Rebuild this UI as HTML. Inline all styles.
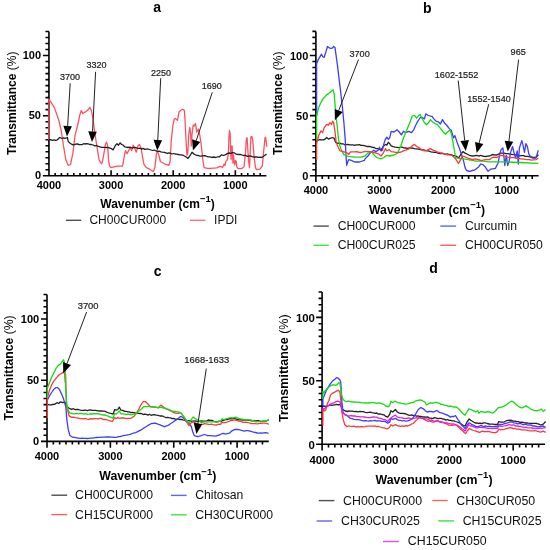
<!DOCTYPE html>
<html><head><meta charset="utf-8"><style>
html,body{margin:0;padding:0;background:#fff;width:550px;height:550px;overflow:hidden}
svg{display:block;will-change:transform}
text{font-family:"Liberation Sans",sans-serif}
.tk{font-size:11px;font-weight:bold;fill:#000}
.ti{font-size:14px;font-weight:bold;fill:#000}
.ax{font-size:12px;font-weight:bold;fill:#000}
.an{font-size:9px;fill:#1a1a1a;stroke:#1a1a1a;stroke-width:0.2px}
.lg{font-size:12px;fill:#111}
</style></head><body>
<svg width="550" height="550" viewBox="0 0 550 550">
<rect width="550" height="550" fill="#fff"/>
<g><path d="M48.95 31.5V175.8M42.95 175.8H48.95M45.45 169.79H48.95M45.45 163.78H48.95M45.45 157.76H48.95M45.45 151.75H48.95M45.45 145.74H48.95M45.45 139.73H48.95M45.45 133.71H48.95M45.45 127.7H48.95M45.45 121.69H48.95M42.95 115.68H48.95M45.45 109.66H48.95M45.45 103.65H48.95M45.45 97.64H48.95M45.45 91.62H48.95M45.45 85.61H48.95M45.45 79.6H48.95M45.45 73.59H48.95M45.45 67.58H48.95M45.45 61.56H48.95M42.95 55.55H48.95M45.45 49.54H48.95M45.45 43.53H48.95M45.45 37.51H48.95M45.45 31.5H48.95M48.95 175.8H266.4M48.95 175.8V170.2M55.16 175.8V172.9M61.38 175.8V172.9M67.59 175.8V172.9M73.8 175.8V172.9M80.01 175.8V172.9M86.23 175.8V172.9M92.44 175.8V172.9M98.65 175.8V172.9M104.87 175.8V172.9M111.08 175.8V170.2M117.29 175.8V172.9M123.5 175.8V172.9M129.72 175.8V172.9M135.93 175.8V172.9M142.14 175.8V172.9M148.36 175.8V172.9M154.57 175.8V172.9M160.78 175.8V172.9M166.99 175.8V172.9M173.21 175.8V170.2M179.42 175.8V172.9M185.63 175.8V172.9M191.85 175.8V172.9M198.06 175.8V172.9M204.27 175.8V172.9M210.48 175.8V172.9M216.7 175.8V172.9M222.91 175.8V172.9M229.12 175.8V172.9M235.34 175.8V170.2M241.55 175.8V172.9M247.76 175.8V172.9M253.97 175.8V172.9M260.19 175.8V172.9" fill="none" stroke="#000" stroke-width="1.6"/>
<polyline points="48.9,140 48.9,99 54.3,107.4 58.9,120.5 61.2,130.5 63.5,146 65.9,160 68.2,165.3 70.5,164.5 72.8,153.7 75.1,135.2 77.5,126 79.8,115 81.3,110.5 82.9,113.5 85.2,112 87.5,110.5 89.8,107.4 91.4,110.5 92.9,118.2 94.5,130.5 96.8,146 99.1,160 101.4,163.8 102.3,162.2 103.9,153.7 105.4,144.5 106.5,142.1 107.7,146 108.5,159.9 109.6,166.1 110.8,167.6 113.9,166.9 117,166.1 122.4,166.1 123.2,163 124.7,153.7 125.5,150.6 127,153.7 128.6,150.6 130.1,147.5 131.7,150.6 133.2,145.2 134.8,148.3 136.3,152.2 137.9,146 139.4,144.5 141,147.5 142.5,156.8 144,164.5 146.4,167.6 149.5,169.2 153.3,171.5 154.9,167.6 156.4,153.7 157.5,151.4 158.7,154.5 160.4,161.5 164.3,163.8 168.9,165.3 170.1,161.5 171.2,141.4 172.8,125.9 174.3,119 175.3,118.5 176.5,119.5 177.5,120.3 179,112 180.5,110.5 182.8,109.2 184.4,110.5 185.1,121.3 185.9,138.3 187,155.3 187.8,153.7 188.7,135.2 189.8,127.5 190.5,132.1 191.3,146 192.1,133.6 193.2,125.1 194.4,125.9 195.5,123.6 196.7,132.1 198.3,129 199.8,135.2 201.4,146 203,161.5 204.1,167.6 207.5,168.4 210,168.4 216.8,167.8 220,166.4 222.7,167.3 224.1,164.1 225,165.5 225.9,161.4 226.8,160.5 227.7,158.6 228.4,152.3 228.9,138.6 229.5,130.5 230.2,134.1 230.7,152.3 231.1,159.5 231.6,146.8 232.1,145.9 232.5,154.1 233,163.2 233.5,155 234.1,161.4 234.7,165 235.5,160.5 236.2,161.4 236.8,166.8 238.2,168.6 241.8,168.5 244.1,166.8 245.5,152.3 246.4,138.6 247.1,137.7 247.7,147.7 248.6,161.4 249.5,167.7 250.2,152.3 250.9,136.8 251.8,136.4 252.7,139.5 254.1,156.8 255.5,167.7 256.4,169.5 260,169.1 262.3,165.9 263.6,152.3 265,137.7 265.6,137.3 266.4,143.2 266.8,146.8" fill="none" stroke="#ff5060" stroke-width="1.3" stroke-linejoin="round"/>
<polyline points="48.9,139.8 50.6,139.7 52.3,140.3 54.0,139.9 55.7,140.3 57.4,139.8 59.7,137.5 62.0,138.5 63.5,137.9 65.1,138.3 67.4,137.5 68.2,141.4 70.1,143.3 72.0,144.5 73.8,144.9 75.5,144.1 77.2,144.0 79.0,144.5 80.5,144.6 82.0,144.7 83.5,143.7 85.0,144.0 86.6,143.7 88.2,143.9 89.8,144.5 91.4,144.5 93.1,145.0 94.8,145.9 96.6,145.5 98.3,146.3 100.0,146.8 101.5,147.3 103.1,147.3 104.7,147.4 106.2,147.5 107.7,147.3 109.3,147.8 110.8,148.3 113.1,149.9 115.5,145.2 117.0,143.7 118.5,145.2 120.1,142.9 121.6,144.5 123.2,145.2 124.7,146.8 126.2,147.1 127.8,147.5 129.3,147.2 130.9,147.5 132.4,148.1 134.0,147.4 135.5,147.5 137.1,148.2 138.6,148.3 140.2,148.1 141.7,149.1 143.3,148.4 144.8,149.4 146.4,149.1 147.9,149.0 149.5,149.5 151.0,150.0 152.5,150.5 154.1,150.0 155.6,150.6 157.4,151.3 159.1,151.2 160.9,151.9 162.7,152.2 164.3,152.4 165.8,152.9 167.4,153.4 168.9,152.8 170.5,153.4 172.0,154.0 173.6,153.5 175.1,154.0 176.7,154.1 178.2,154.5 179.8,154.9 181.3,154.9 182.8,155.2 184.4,156.0 186.2,157.0 187.9,158.4 189.8,156.0 192.1,152.2 194.4,154.5 196.7,155.3 198.3,155.5 199.8,156.1 201.4,156.0 202.9,155.8 204.5,155.7 206.0,156.0 208.0,156.8 210.0,156.8 211.8,157.5 213.7,157.0 215.5,157.5 217.5,156.9 219.5,156.8 221.6,154.8 223.6,155.5 225.6,154.6 227.7,153.4 229.3,153.0 230.9,153.4 232.5,152.7 234.1,152.8 235.7,153.8 237.3,154.4 239.0,154.5 240.7,154.5 242.4,155.1 244.1,155.5 245.8,155.5 247.5,156.3 249.2,155.9 250.9,156.2 252.7,156.8 254.6,157.0 256.4,156.8 258.2,157.4 260.0,157.2 261.8,157.5 264.6,155.5 266.6,154.1" fill="none" stroke="#222222" stroke-width="1.3" stroke-linejoin="round"/>
<text x="48.95" y="188.6" class="tk" style="font-size:11px" text-anchor="middle">4000</text>
<text x="111.08" y="188.6" class="tk" style="font-size:11px" text-anchor="middle">3000</text>
<text x="173.21" y="188.6" class="tk" style="font-size:11px" text-anchor="middle">2000</text>
<text x="235.34" y="188.6" class="tk" style="font-size:11px" text-anchor="middle">1000</text>
<text x="41" y="179.3" class="tk" style="font-size:11px" text-anchor="end">0</text>
<text x="41" y="119.18" class="tk" style="font-size:11px" text-anchor="end">50</text>
<text x="41" y="59.05" class="tk" style="font-size:11px" text-anchor="end">100</text>
<text x="157.2" y="11.8" class="ti" text-anchor="middle">a</text>
<text transform="translate(16.3 103.3) rotate(-90)" class="ax" style="font-size:12px" text-anchor="middle">Transmittance <tspan font-weight="normal">(%)</tspan></text>
<text x="157.5" y="207.5" class="ax" style="font-size:12px" text-anchor="middle">Wavenumber (cm<tspan dy="-5.4" font-size="9.5px">−1</tspan><tspan dy="5.4">)</tspan></text>
<text x="60" y="79.7" class="an" style="font-size:9px">3700</text>
<line x1="70.2" y1="83.3" x2="67.63" y2="126.02" stroke="#222" stroke-width="1"/>
<polygon points="67,136.5 63.34,125.76 71.92,126.28" fill="#000"/>
<text x="86.5" y="67.8" class="an" style="font-size:9px">3320</text>
<line x1="95.6" y1="71.8" x2="92.54" y2="131.51" stroke="#222" stroke-width="1"/>
<polygon points="92,142 88.24,131.29 96.83,131.73" fill="#000"/>
<text x="150.9" y="76" class="an" style="font-size:9px">2250</text>
<line x1="160.7" y1="78.2" x2="157.79" y2="140.01" stroke="#222" stroke-width="1"/>
<polygon points="157.3,150.5 153.5,139.81 162.09,140.21" fill="#000"/>
<text x="201.8" y="88.9" class="an" style="font-size:9px">1690</text>
<line x1="212.3" y1="92.3" x2="196.22" y2="140.64" stroke="#222" stroke-width="1"/>
<polygon points="192.9,150.6 192.14,139.28 200.3,141.99" fill="#000"/>
<line x1="65.9" y1="220.3" x2="81.2" y2="220.3" stroke="#222222" stroke-width="1.4" opacity="0.8"/>
<text x="89.4" y="224.2" class="lg" style="font-size:12px">CH00CUR000</text>
<line x1="189.9" y1="220.3" x2="205.5" y2="220.3" stroke="#ff5060" stroke-width="1.4" opacity="0.8"/>
<text x="214.1" y="223.8" class="lg" style="font-size:12px">IPDI</text></g>
<g><path d="M315.9 31.4V175.8M309.9 175.8H315.9M312.4 169.78H315.9M312.4 163.77H315.9M312.4 157.75H315.9M312.4 151.73H315.9M312.4 145.72H315.9M312.4 139.7H315.9M312.4 133.68H315.9M312.4 127.67H315.9M312.4 121.65H315.9M309.9 115.63H315.9M312.4 109.62H315.9M312.4 103.6H315.9M312.4 97.58H315.9M312.4 91.57H315.9M312.4 85.55H315.9M312.4 79.53H315.9M312.4 73.52H315.9M312.4 67.5H315.9M312.4 61.48H315.9M309.9 55.47H315.9M312.4 49.45H315.9M312.4 43.43H315.9M312.4 37.42H315.9M312.4 31.4H315.9M315.9 175.8H538.6M315.9 175.8V182.1M322.26 175.8V179M328.63 175.8V179M334.99 175.8V179M341.35 175.8V179M347.71 175.8V179M354.08 175.8V179M360.44 175.8V179M366.8 175.8V179M373.17 175.8V179M379.53 175.8V182.1M385.89 175.8V179M392.25 175.8V179M398.62 175.8V179M404.98 175.8V179M411.34 175.8V179M417.71 175.8V179M424.07 175.8V179M430.43 175.8V179M436.79 175.8V179M443.16 175.8V182.1M449.52 175.8V179M455.88 175.8V179M462.25 175.8V179M468.61 175.8V179M474.97 175.8V179M481.33 175.8V179M487.7 175.8V179M494.06 175.8V179M500.42 175.8V179M506.79 175.8V182.1M513.15 175.8V179M519.51 175.8V179M525.87 175.8V179M532.24 175.8V179" fill="none" stroke="#000" stroke-width="1.6"/>
<polyline points="316.6,139.9 318.3,140.1 320.1,139.6 321.8,139.9 323.5,139.9 325.1,139.1 326.7,137.5 328.4,139.1 330.0,138.3 332.5,137.5 334.1,138.3 335.7,142.4 337.8,143.3 339.8,143.2 341.4,143.9 343.1,143.8 344.7,144.8 346.3,144.7 348.0,144.5 349.6,144.8 351.2,144.9 352.9,144.8 354.5,145.3 356.2,144.8 357.8,144.8 359.4,144.7 361.1,145.4 362.8,145.4 364.4,145.6 365.0,145.8 366.8,146.5 368.6,146.3 370.5,146.6 372.3,147.3 374.2,147.5 376.2,148.7 378.1,148.7 381.0,150.2 383.2,146.5 385.4,144.4 386.8,145.1 388.3,142.2 389.7,143.6 391.2,145.8 393.1,146.7 395.1,147.2 397.0,147.3 398.7,147.6 400.5,147.1 402.2,147.2 404.0,147.8 405.7,148.0 407.5,148.4 409.2,148.0 411.0,148.0 412.7,148.1 414.5,148.7 416.4,148.9 418.4,149.1 420.3,149.5 422.1,149.8 423.8,149.8 425.6,150.6 427.3,150.9 429.1,151.0 430.9,151.8 432.7,152.1 434.5,152.4 436.3,152.3 438.1,153.1 440.0,153.5 441.8,153.5 443.6,153.6 445.5,154.3 447.3,153.8 449.1,154.5 451.0,154.7 453.0,155.7 454.9,155.6 456.7,156.5 458.5,158.2 460.7,154.5 462.9,151.6 465.1,153.1 468.0,154.5 470.2,155.7 472.4,156.0 474.2,155.8 476.0,155.3 477.6,155.6 479.1,156.1 480.7,155.4 482.3,156.0 484.1,156.4 485.9,156.5 487.7,156.1 489.5,156.0 491.0,155.4 492.5,154.5 494.6,154.8 496.8,155.0 498.6,154.1 500.5,153.1 502.3,153.1 504.1,153.1 506.0,153.6 508.0,153.6 509.9,154.1 511.8,154.4 513.8,154.6 515.7,155.0 517.6,154.9 519.6,155.9 521.5,155.6 523.5,155.6 525.4,156.4 527.4,156.4 529.3,156.7 531.3,157.0 533.2,157.5 536.1,157.5 538.3,154.5" fill="none" stroke="#222222" stroke-width="1.3" stroke-linejoin="round"/>
<polyline points="316.6,116 316.6,63.7 318.4,59.3 319.6,57.4 321.5,54.2 322.8,56.7 324.1,57.4 326,51.6 327.5,46.5 329.2,47.8 331.1,48.5 332.6,47.8 333.6,46.5 334.9,47.2 335.9,54.2 337.5,65.6 339,78.4 340.6,91.1 342.3,106.4 343.9,122.7 345.2,139.1 346,155.5 346.7,165.3 347.7,162 348.8,159.6 351.3,160.4 354.6,162 359.5,162 364.4,160.4 365,158.9 367.9,156 370.8,152.4 373.7,150.2 375.9,151.6 378.1,150.2 379.5,147.3 381,150.9 382.5,150.2 383.9,143.6 385.4,139.3 386.8,137.1 388.3,139.3 389.7,137.8 391.2,131.3 394.1,132 397,129.8 399.2,132 401.4,134.9 403.5,131.3 405.7,132.7 408.6,131.3 411.5,132.7 413.7,129.8 415.2,126.2 417.4,121.8 420.3,117.5 422.2,117.5 424.4,118.9 425.8,113.8 428,115.3 430.2,116 432.4,116.7 433.8,118.9 436,121.1 438.2,121.8 440.4,124 442.5,119.6 444.7,123.3 446.9,125.5 449.1,128.4 451.3,130.5 453.5,137.8 454.9,135.6 457.1,142.2 459.3,148 461.5,154.5 463.6,161.1 465.1,167.6 466.5,170.5 469.5,171.3 472.4,170.5 475,169.8 478.6,166.9 480.8,164 483,164.7 485.2,166.9 488.1,171.3 491,169.1 495.4,168.4 498.3,162.5 499.7,153.8 501.2,149.5 502.9,148 504.1,158.2 504.8,165.5 506.3,155.3 507.7,165.5 509.2,161.1 510.6,152.4 512.5,146.5 514.3,153.8 515.7,158.2 517.2,150.9 518.3,164 519.4,148 520.8,143.6 521.8,140.7 523,145.1 524.5,152.4 525.9,143.6 527.4,146.5 528.8,153.8 531,157.5 533.2,158.2 535.4,158.2 536.8,155.3 538.3,150.2" fill="none" stroke="#3c3cff" stroke-width="1.3" stroke-linejoin="round"/>
<polyline points="316.6,140 316.6,116.2 318.5,108 321,102.3 323.5,98.2 326.7,94.9 330,92.5 331.5,91.2 333,89.8 334.1,93.3 335.2,106.4 336.2,117.8 337.4,127.6 338.5,139.1 339.8,145.6 341.5,150.6 343.9,154.6 348,156.3 354.6,157.1 361.1,157.1 365,156 367.9,153.1 371.5,151.6 373.7,154.5 376.6,157.5 381,158.9 383.9,157.5 386.8,155.3 389.7,156 394.1,155 397.7,153.1 400.6,146.5 403.5,137.8 407.2,129.1 410.1,121.8 412.3,116 414.5,115.3 416.6,118.2 418.8,115.3 420.3,114.5 422.2,118.9 424.4,122.5 426.5,124.7 428.7,122.5 430.5,119.6 432.4,121.8 434.5,123.3 437.5,124.7 440.4,128.4 443.3,132 445.5,134.2 447.6,132 449.8,129.8 451.3,133.5 452.7,140.7 454.2,149.5 455.6,157.5 457.8,158.2 460,158.9 462.2,158.2 463.6,158.9 468,159.6 472.4,160.4 476,161.1 479.9,160.8 489.5,161.8 504.1,161.8 518.6,162.5 538.3,163.3" fill="none" stroke="#12dc12" stroke-width="1.3" stroke-linejoin="round"/>
<polyline points="316.6,160.0 316.6,144.0 318.5,135.8 321.0,130.9 322.6,132.6 324.3,127.6 326.7,124.4 328.4,125.2 330.0,122.7 331.6,124.4 332.5,121.1 333.6,122.7 334.9,130.9 336.2,142.4 337.9,146.5 339.8,150.6 342.3,151.4 344.7,152.2 347.2,153.0 348.8,154.6 350.0,152.2 351.5,151.9 353.1,151.8 354.6,151.9 356.2,151.7 357.9,152.0 359.5,152.3 361.1,152.5 363.1,151.9 365.0,151.6 367.2,151.6 369.4,151.6 371.5,151.9 373.7,152.4 375.9,153.0 378.1,153.8 381.0,156.0 383.2,153.1 385.4,148.7 386.8,150.9 389.0,149.5 391.2,151.6 393.4,151.9 395.5,152.4 397.7,152.3 399.9,152.4 401.8,151.6 403.8,150.7 405.7,150.2 407.9,149.4 410.1,148.0 412.3,145.8 414.5,144.4 416.6,146.5 418.5,147.4 420.3,148.7 422.4,150.1 424.4,150.9 427.3,150.2 430.2,148.7 433.1,150.2 435.0,150.9 437.0,151.9 438.9,152.4 440.7,153.0 442.5,153.1 444.4,154.0 446.2,154.5 448.1,154.8 450.1,154.8 452.0,155.3 453.8,156.9 455.6,158.9 458.5,163.3 460.7,159.6 462.2,156.0 464.4,156.7 466.2,157.5 468.0,158.2 470.2,158.8 472.4,159.6 475.3,158.9 477.1,159.3 478.8,159.7 480.6,160.3 482.3,160.4 484.1,159.9 485.9,159.7 487.7,159.7 489.5,159.6 491.0,158.6 492.5,157.5 494.6,157.2 496.8,157.5 498.6,156.6 500.5,155.3 502.3,155.6 504.1,156.0 506.0,156.7 508.0,157.2 509.9,157.5 511.8,157.6 513.8,157.7 515.7,158.2 517.6,158.7 519.6,158.7 521.5,158.9 523.5,159.1 525.4,159.4 527.4,159.6 529.3,159.7 531.3,160.1 533.2,159.9 536.1,159.6 538.3,158.2" fill="none" stroke="#ff3838" stroke-width="1.3" stroke-linejoin="round"/>
<text x="315.9" y="194" class="tk" style="font-size:11px" text-anchor="middle">4000</text>
<text x="379.53" y="194" class="tk" style="font-size:11px" text-anchor="middle">3000</text>
<text x="443.16" y="194" class="tk" style="font-size:11px" text-anchor="middle">2000</text>
<text x="506.79" y="194" class="tk" style="font-size:11px" text-anchor="middle">1000</text>
<text x="308.3" y="180" class="tk" style="font-size:11px" text-anchor="end">0</text>
<text x="308.3" y="119.83" class="tk" style="font-size:11px" text-anchor="end">50</text>
<text x="308.3" y="59.67" class="tk" style="font-size:11px" text-anchor="end">100</text>
<text x="427.3" y="12.5" class="ti" text-anchor="middle">b</text>
<text transform="translate(282.1 103.2) rotate(-90)" class="ax" style="font-size:12px" text-anchor="middle">Transmittance <tspan font-weight="normal">(%)</tspan></text>
<text x="427.1" y="213.5" class="ax" style="font-size:12.2px" text-anchor="middle">Wavenumber (cm<tspan dy="-5.4" font-size="9.5px">−1</tspan><tspan dy="5.4">)</tspan></text>
<text x="349.5" y="56.5" class="an" style="font-size:9.1px">3700</text>
<line x1="358.5" y1="59.5" x2="338.7" y2="110.51" stroke="#222" stroke-width="1"/>
<polygon points="334.9,120.3 334.69,108.96 342.71,112.07" fill="#000"/>
<text x="434.8" y="78.2" class="an" style="font-size:9.1px">1602-1552</text>
<line x1="458.2" y1="80.5" x2="464.67" y2="140.46" stroke="#222" stroke-width="1"/>
<polygon points="465.8,150.9 460.4,140.92 468.95,140" fill="#000"/>
<text x="467.3" y="101.8" class="an" style="font-size:9.1px">1552-1540</text>
<line x1="488.7" y1="104.2" x2="479.2" y2="142.9" stroke="#222" stroke-width="1"/>
<polygon points="476.7,153.1 475.03,141.88 483.38,143.93" fill="#000"/>
<text x="510.6" y="54.6" class="an" style="font-size:9.1px">965</text>
<line x1="518.6" y1="59.6" x2="508.94" y2="141.17" stroke="#222" stroke-width="1"/>
<polygon points="507.7,151.6 504.67,140.67 513.21,141.68" fill="#000"/>
<line x1="313.5" y1="226.1" x2="328.8" y2="226.1" stroke="#222222" stroke-width="1.4" opacity="0.8"/>
<text x="337.7" y="230.3" class="lg" style="font-size:12.2px">CH00CUR000</text>
<line x1="440.3" y1="226.1" x2="456.1" y2="226.1" stroke="#3c3cff" stroke-width="1.4" opacity="0.8"/>
<text x="464.9" y="230.3" class="lg" style="font-size:12.2px">Curcumin</text>
<line x1="313.5" y1="245.3" x2="328.8" y2="245.3" stroke="#12dc12" stroke-width="1.4" opacity="0.8"/>
<text x="337.7" y="249.3" class="lg" style="font-size:12.2px">CH00CUR025</text>
<line x1="440.3" y1="245.3" x2="456.1" y2="245.3" stroke="#ff3838" stroke-width="1.4" opacity="0.8"/>
<text x="464.9" y="249.3" class="lg" style="font-size:12.2px">CH00CUR050</text></g>
<g><path d="M47 294.5V441.4M41 441.4H47M43.5 435.28H47M43.5 429.16H47M43.5 423.04H47M43.5 416.92H47M43.5 410.8H47M43.5 404.67H47M43.5 398.55H47M43.5 392.43H47M43.5 386.31H47M41 380.19H47M43.5 374.07H47M43.5 367.95H47M43.5 361.83H47M43.5 355.71H47M43.5 349.59H47M43.5 343.47H47M43.5 337.35H47M43.5 331.23H47M43.5 325.1H47M41 318.98H47M43.5 312.86H47M43.5 306.74H47M43.5 300.62H47M43.5 294.5H47M47 441.4H268.8M47 441.4V447.7M53.34 441.4V444.6M59.67 441.4V444.6M66.01 441.4V444.6M72.35 441.4V444.6M78.69 441.4V444.6M85.02 441.4V444.6M91.36 441.4V444.6M97.7 441.4V444.6M104.03 441.4V444.6M110.37 441.4V447.7M116.71 441.4V444.6M123.05 441.4V444.6M129.38 441.4V444.6M135.72 441.4V444.6M142.06 441.4V444.6M148.39 441.4V444.6M154.73 441.4V444.6M161.07 441.4V444.6M167.41 441.4V444.6M173.74 441.4V447.7M180.08 441.4V444.6M186.42 441.4V444.6M192.75 441.4V444.6M199.09 441.4V444.6M205.43 441.4V444.6M211.77 441.4V444.6M218.1 441.4V444.6M224.44 441.4V444.6M230.78 441.4V444.6M237.11 441.4V447.7M243.45 441.4V444.6M249.79 441.4V444.6M256.13 441.4V444.6M262.46 441.4V444.6" fill="none" stroke="#000" stroke-width="1.6"/>
<polyline points="47.2,404.4 49.0,404.8 50.9,404.9 52.6,404.5 54.4,404.4 57.0,402.7 58.7,403.5 60.4,401.8 63.0,402.7 64.7,401.8 67.3,407.0 69.9,408.7 71.6,409.4 73.4,408.7 75.1,409.6 76.8,409.5 78.5,409.5 80.3,410.2 82.0,410.4 83.7,410.4 85.5,410.0 87.2,410.6 88.9,410.1 90.6,409.8 92.3,410.3 94.1,410.4 95.8,410.4 97.9,410.8 100.0,411.0 101.5,410.8 103.1,411.1 104.7,411.2 106.2,411.8 107.7,412.5 109.3,413.2 110.8,413.3 113.1,414.1 114.7,409.5 116.2,410.2 117.8,409.5 119.3,407.1 120.9,410.2 122.8,410.3 124.7,411.3 126.2,411.4 127.8,411.8 129.3,411.9 130.9,412.6 132.4,412.3 134.0,412.7 135.5,413.2 137.1,413.0 138.6,413.3 140.2,413.5 141.7,413.7 143.3,414.5 144.8,414.2 146.4,414.4 147.9,415.1 149.5,414.2 151.1,415.3 152.6,414.9 154.4,414.7 156.3,415.2 158.2,415.4 160.0,416.0 161.5,415.8 163.0,416.2 164.5,417.0 166.0,417.6 167.5,417.3 169.0,417.7 170.5,417.9 172.0,418.6 173.6,418.3 175.1,419.1 176.7,419.1 178.2,419.2 179.7,419.5 181.3,419.3 182.8,419.8 184.4,420.2 185.9,420.6 187.4,421.2 189.0,420.5 190.6,421.4 192.1,421.1 193.7,421.2 195.2,420.9 196.8,421.4 198.3,421.5 199.9,421.1 201.4,420.8 202.9,421.1 204.5,421.1 206.3,421.2 208.2,420.0 210.0,420.4 212.0,420.4 213.9,421.3 215.9,422.0 217.5,421.9 219.0,421.2 220.6,421.6 222.4,420.6 224.2,420.2 225.8,419.5 227.3,419.6 228.9,418.8 230.5,418.5 232.0,418.8 233.6,418.4 235.4,418.8 237.1,419.4 238.9,419.9 240.7,419.6 242.2,420.0 243.8,420.0 245.3,420.0 246.8,420.1 248.3,420.3 249.9,420.1 251.4,420.8 252.9,420.8 254.4,420.5 255.9,421.0 257.5,420.6 259.0,420.7 260.5,421.6 262.0,421.4 263.6,421.1 265.3,421.2 267.0,420.6 268.6,420.2" fill="none" stroke="#222222" stroke-width="1.3" stroke-linejoin="round"/>
<polyline points="47.3,400.2 49.5,395.8 51.6,392.5 53.8,389.3 56.0,387.6 57.6,387.6 59.3,389.3 61.4,393.6 63.6,399.1 65.8,406.7 66.8,419.1 68.2,429.4 69.9,435.5 72.5,437.2 74.0,437.3 75.5,437.5 77.0,438.0 78.5,438.1 80.2,438.3 82.0,438.1 83.7,438.3 85.4,438.3 87.2,438.5 88.9,438.4 90.5,438.2 92.1,438.2 93.7,437.9 95.2,437.7 96.8,437.5 98.4,437.3 100.0,437.3 101.5,437.1 103.1,437.2 104.6,437.2 106.2,436.9 107.7,437.0 109.3,437.0 110.8,437.2 112.4,437.1 113.9,437.4 115.5,437.3 117.0,437.1 118.6,436.6 120.1,436.5 121.6,436.1 123.2,435.6 124.7,435.4 126.2,435.2 127.8,434.8 129.3,434.7 130.9,434.2 132.4,433.5 134.0,432.9 135.6,432.6 137.1,431.9 138.6,431.1 140.2,430.3 141.7,429.6 143.3,428.4 144.8,427.5 146.4,426.5 147.9,425.4 149.5,424.6 151.0,423.7 152.9,423.4 154.9,423.1 156.4,423.5 158.0,424.1 159.6,424.6 161.2,425.3 162.7,425.9 164.3,426.8 165.8,426.1 167.4,425.7 168.9,424.9 170.4,423.8 172.0,422.8 173.5,421.8 175.1,420.6 176.6,419.7 178.2,418.4 180.5,416.4 182.8,417.5 184.4,419.1 185.9,421.1 187.4,422.4 189.0,423.4 191.3,426.5 192.9,432.3 194.4,435.7 195.9,436.2 197.5,436.5 199.4,436.2 201.4,435.7 202.9,435.0 204.5,434.5 206.0,435.0 207.5,435.7 210.0,435.6 212.0,435.9 213.9,435.8 215.9,436.1 217.7,435.4 219.5,435.0 221.2,434.0 223.0,433.4 224.8,433.8 226.5,433.8 228.0,433.4 229.5,433.2 231.9,430.8 234.8,429.4 236.3,429.5 237.8,429.4 240.7,430.2 242.5,430.6 244.3,431.1 246.1,430.7 247.8,430.6 250.2,431.1 251.9,431.7 253.7,432.2 255.5,432.5 257.3,433.0 258.9,433.1 260.4,433.0 262.0,433.2 263.8,432.8 265.6,432.6 267.1,433.1 268.6,433.2" fill="none" stroke="#3c3cff" stroke-width="1.3" stroke-linejoin="round"/>
<polyline points="47.3,418.0 47.3,398.0 49.5,390.3 51.6,384.9 53.8,381.1 56.0,378.4 58.2,375.6 60.4,374.0 62.5,372.9 63.6,371.8 64.7,374.0 65.3,382.7 65.6,374.2 66.1,393.2 66.8,407.0 69.0,415.6 71.6,417.4 73.3,417.2 75.0,417.6 76.8,417.8 78.5,418.2 80.2,418.7 82.0,418.7 83.7,418.8 85.5,418.5 87.2,419.1 88.9,419.4 90.6,418.7 92.4,419.0 94.1,418.6 95.8,418.7 97.9,418.9 100.0,418.4 101.5,418.4 103.1,419.5 104.6,419.5 106.2,419.5 107.7,420.0 109.3,420.6 110.8,421.0 112.4,421.5 114.7,417.5 116.2,418.7 117.8,417.5 119.3,418.4 121.6,418.0 123.2,417.8 124.7,418.2 126.3,418.7 127.8,418.3 129.4,418.3 130.9,418.4 132.4,417.3 134.0,416.4 136.3,413.3 138.6,409.5 141.0,404.8 143.3,401.7 145.6,401.7 147.9,404.0 150.2,406.4 152.6,407.1 154.1,407.0 155.6,407.1 158.1,407.9 160.9,405.1 163.5,407.1 165.1,408.4 166.6,409.1 168.6,409.9 170.5,411.0 172.4,411.8 174.3,412.6 176.2,413.4 178.2,413.3 180.5,412.6 182.8,415.6 184.4,418.1 185.9,420.3 187.4,423.3 189.0,425.7 191.3,422.6 193.6,421.8 196.0,423.4 197.9,423.8 199.8,424.9 201.4,424.2 202.9,424.4 204.5,423.7 206.3,423.8 208.2,424.4 210.0,424.3 211.6,424.2 213.1,424.6 214.7,424.9 216.7,425.0 218.6,424.2 220.6,424.3 221.8,422.6 223.6,422.3 225.4,422.6 227.2,422.0 228.9,421.4 230.7,420.5 232.5,420.4 234.2,420.2 236.0,420.2 238.4,421.1 240.2,421.1 241.9,422.0 243.9,422.3 245.8,422.2 247.8,422.6 249.4,422.8 251.0,423.5 252.6,423.7 254.2,423.7 255.7,423.5 257.3,424.0 259.3,423.3 261.2,423.3 263.2,423.1 264.8,423.1 266.3,423.4 267.9,423.7 268.6,424.7" fill="none" stroke="#ff3838" stroke-width="1.3" stroke-linejoin="round"/>
<polyline points="47.3,398.0 47.3,388.2 49.5,382.7 51.6,377.3 53.8,372.9 56.0,368.5 58.2,365.3 60.4,364.2 62.0,362.0 63.6,359.8 64.7,363.1 65.3,371.8 65.6,384.5 66.5,403.5 68.2,410.4 69.9,413.0 71.6,413.3 73.4,413.8 75.1,413.9 76.8,413.4 78.5,414.0 80.3,413.4 82.0,413.6 83.7,414.1 85.5,413.6 87.2,414.3 88.9,414.2 90.6,414.0 92.3,414.0 94.1,413.6 95.8,413.9 97.9,413.7 100.0,414.1 101.5,414.6 103.1,415.0 104.7,414.9 106.2,415.6 107.7,415.9 109.3,417.0 110.8,417.2 113.1,418.4 114.7,413.3 116.2,414.1 117.8,412.6 119.3,411.0 120.9,413.8 122.8,413.8 124.7,414.1 126.2,414.7 127.8,414.2 129.3,414.3 130.9,414.9 132.4,414.6 134.0,414.2 135.5,414.1 137.1,412.4 138.6,411.0 140.1,410.0 141.7,408.7 143.2,407.1 144.8,406.4 146.4,406.7 147.9,406.4 149.4,406.3 151.0,407.1 152.5,406.7 154.1,407.2 155.6,407.1 157.5,407.5 159.3,407.5 161.2,407.1 162.8,407.8 164.3,408.1 165.8,408.2 167.4,409.1 168.9,409.3 170.4,410.4 172.0,411.0 173.5,411.3 175.1,411.4 176.6,411.6 178.2,411.8 180.5,412.6 182.1,414.3 183.6,416.4 185.9,419.5 187.4,421.7 189.0,423.4 191.3,419.5 193.3,416.9 195.2,418.7 196.8,419.5 198.3,420.3 199.9,421.6 201.4,422.6 202.9,422.1 204.5,421.8 206.0,421.8 207.5,422.1 209.1,421.8 210.6,421.8 213.5,421.6 215.3,421.9 217.1,422.0 218.8,421.4 220.6,421.4 221.8,419.0 224.2,419.6 225.9,418.9 227.7,418.4 229.5,417.8 231.3,417.6 233.6,417.8 236.0,417.2 238.4,418.4 240.7,419.0 242.5,419.1 244.3,420.0 246.1,420.2 247.8,419.6 249.6,420.1 251.4,420.2 253.2,420.6 254.9,421.4 256.7,421.8 258.5,421.6 260.2,421.2 262.0,421.1 263.8,420.9 265.6,421.4 267.9,420.2 268.6,419.0" fill="none" stroke="#12dc12" stroke-width="1.3" stroke-linejoin="round"/>
<text x="47" y="459.5" class="tk" style="font-size:11px" text-anchor="middle">4000</text>
<text x="110.37" y="459.5" class="tk" style="font-size:11px" text-anchor="middle">3000</text>
<text x="173.74" y="459.5" class="tk" style="font-size:11px" text-anchor="middle">2000</text>
<text x="237.11" y="459.5" class="tk" style="font-size:11px" text-anchor="middle">1000</text>
<text x="39.2" y="445.3" class="tk" style="font-size:11px" text-anchor="end">0</text>
<text x="39.2" y="384.09" class="tk" style="font-size:11px" text-anchor="end">50</text>
<text x="39.2" y="322.88" class="tk" style="font-size:11px" text-anchor="end">100</text>
<text x="157.6" y="275.5" class="ti" text-anchor="middle">c</text>
<text transform="translate(13.1 367.9) rotate(-90)" class="ax" style="font-size:12.2px" text-anchor="middle">Transmittance <tspan font-weight="normal">(%)</tspan></text>
<text x="157.8" y="480" class="ax" style="font-size:12.3px" text-anchor="middle">Wavenumber (cm<tspan dy="-5.4" font-size="9.5px">−1</tspan><tspan dy="5.4">)</tspan></text>
<text x="77.7" y="308.9" class="an" style="font-size:9.4px">3700</text>
<line x1="86.6" y1="312.1" x2="67.04" y2="363.49" stroke="#222" stroke-width="1"/>
<polygon points="63.3,373.3 63.02,361.96 71.05,365.02" fill="#000"/>
<text x="184.3" y="362.9" class="an" style="font-size:9.4px">1668-1633</text>
<line x1="206.3" y1="368.6" x2="197.97" y2="423.52" stroke="#222" stroke-width="1"/>
<polygon points="196.4,433.9 193.72,422.87 202.23,424.16" fill="#000"/>
<line x1="51.4" y1="495.2" x2="67.2" y2="495.2" stroke="#222222" stroke-width="1.4" opacity="0.8"/>
<text x="75.1" y="499.2" class="lg" style="font-size:12.2px">CH00CUR000</text>
<line x1="170.9" y1="495.4" x2="186.6" y2="495.4" stroke="#3c3cff" stroke-width="1.4" opacity="0.8"/>
<text x="195.2" y="499.3" class="lg" style="font-size:12.2px">Chitosan</text>
<line x1="51.4" y1="514.6" x2="67.2" y2="514.6" stroke="#ff3838" stroke-width="1.4" opacity="0.8"/>
<text x="75.1" y="519" class="lg" style="font-size:12.2px">CH15CUR000</text>
<line x1="170.9" y1="514.8" x2="186.6" y2="514.8" stroke="#12dc12" stroke-width="1.4" opacity="0.8"/>
<text x="195.2" y="519" class="lg" style="font-size:12.2px">CH30CUR000</text></g>
<g><path d="M322.1 292V444.2M316.1 444.2H322.1M318.6 437.86H322.1M318.6 431.52H322.1M318.6 425.18H322.1M318.6 418.83H322.1M318.6 412.49H322.1M318.6 406.15H322.1M318.6 399.81H322.1M318.6 393.47H322.1M318.6 387.12H322.1M316.1 380.78H322.1M318.6 374.44H322.1M318.6 368.1H322.1M318.6 361.76H322.1M318.6 355.42H322.1M318.6 349.07H322.1M318.6 342.73H322.1M318.6 336.39H322.1M318.6 330.05H322.1M318.6 323.71H322.1M316.1 317.37H322.1M318.6 311.02H322.1M318.6 304.68H322.1M318.6 298.34H322.1M318.6 292H322.1M322.1 444.2H545M322.1 444.2V450.5M328.47 444.2V447.4M334.84 444.2V447.4M341.21 444.2V447.4M347.57 444.2V447.4M353.94 444.2V447.4M360.31 444.2V447.4M366.68 444.2V447.4M373.05 444.2V447.4M379.42 444.2V447.4M385.79 444.2V450.5M392.15 444.2V447.4M398.52 444.2V447.4M404.89 444.2V447.4M411.26 444.2V447.4M417.63 444.2V447.4M424 444.2V447.4M430.37 444.2V447.4M436.73 444.2V447.4M443.1 444.2V447.4M449.47 444.2V450.5M455.84 444.2V447.4M462.21 444.2V447.4M468.58 444.2V447.4M474.95 444.2V447.4M481.31 444.2V447.4M487.68 444.2V447.4M494.05 444.2V447.4M500.42 444.2V447.4M506.79 444.2V447.4M513.16 444.2V450.5M519.53 444.2V447.4M525.89 444.2V447.4M532.26 444.2V447.4M538.63 444.2V447.4" fill="none" stroke="#000" stroke-width="1.6"/>
<polyline points="322.9,406.0 325.6,406.5 327.8,406.0 330.0,404.9 332.2,405.4 334.4,404.9 336.5,404.4 338.2,404.9 339.8,404.4 340.9,406.0 342.5,409.3 345.3,411.0 348.0,411.5 348.5,410.9 350.5,411.1 352.4,411.2 354.4,411.6 356.2,411.4 358.0,411.8 359.8,411.4 361.6,411.6 363.4,411.6 365.2,412.3 367.1,412.6 368.9,412.4 370.4,412.2 371.9,412.7 373.5,412.8 375.0,413.3 376.7,413.0 378.4,414.1 380.1,413.9 382.0,414.5 383.9,414.8 385.8,416.4 387.7,417.1 389.6,414.5 390.9,410.7 392.8,412.0 395.4,409.5 397.3,412.0 398.9,412.9 400.5,413.3 402.1,413.4 403.6,413.5 405.2,413.7 406.8,414.3 408.4,415.2 410.0,415.3 411.6,414.9 413.2,415.6 414.8,415.5 416.4,416.1 417.9,415.9 419.5,416.5 421.1,416.4 422.7,417.0 424.3,416.8 425.9,417.1 427.6,416.9 429.3,418.1 431.0,418.1 432.8,418.6 434.6,417.7 436.4,418.1 438.0,418.6 439.5,418.3 441.1,418.4 442.7,419.0 444.3,419.1 445.9,420.1 447.5,419.5 449.1,420.3 450.7,420.4 452.3,420.9 453.9,420.9 455.5,421.5 457.2,422.0 458.8,422.6 460.5,423.5 462.0,424.6 463.5,425.5 465.0,426.0 466.9,422.2 469.2,419.0 470.7,420.3 472.3,421.3 473.9,422.2 475.4,423.0 476.9,422.8 478.4,423.5 480.1,423.1 481.8,423.6 483.5,422.8 485.4,422.9 487.3,423.5 489.2,424.0 491.1,424.1 492.7,424.2 494.3,424.4 495.9,424.5 497.5,424.5 498.7,421.5 500.6,422.1 502.5,422.2 504.4,421.8 506.4,420.7 508.1,420.4 509.8,420.2 511.5,420.3 513.2,421.1 514.8,421.2 516.5,421.5 518.2,421.7 519.9,422.4 521.6,422.2 523.3,422.4 525.0,423.0 526.7,422.8 528.4,423.2 530.1,423.4 531.8,423.5 533.5,423.4 535.2,423.3 536.9,423.5 538.8,424.1 540.7,425.0 543.3,424.1 545.6,421.5" fill="none" stroke="#222222" stroke-width="1.3" stroke-linejoin="round"/>
<polyline points="322.9,425.5 322.9,410.4 324.0,410.9 325.6,410.4 327.3,403.8 328.9,400.5 330.5,395.1 332.2,393.4 334.4,392.4 336.0,391.3 338.2,390.2 339.8,391.8 340.9,400.5 342.0,412.5 343.1,419.1 344.7,424.5 346.9,426.7 348.4,426.0 350.0,426.2 351.9,426.3 353.9,426.2 355.8,426.9 357.7,426.6 359.7,426.9 361.6,426.6 363.4,426.9 365.2,426.6 367.1,426.2 368.9,426.2 370.4,426.2 371.9,426.2 373.5,426.2 375.0,426.0 376.7,426.7 378.4,426.3 380.1,427.0 382.0,427.7 383.9,427.9 385.8,428.4 387.7,428.8 389.6,427.3 390.9,424.7 392.8,426.0 395.4,424.7 397.3,425.7 399.2,426.0 400.9,426.3 402.6,425.8 404.3,426.3 406.0,425.6 407.7,426.0 409.4,425.4 411.3,424.2 413.2,423.5 415.7,420.9 417.3,419.4 418.9,417.7 420.8,417.7 423.4,419.0 425.9,420.3 428.5,421.5 430.0,420.9 431.9,422.0 433.8,422.2 435.4,421.4 437.0,420.3 438.6,420.9 440.2,422.2 441.9,422.6 443.6,422.7 445.3,423.5 447.0,423.9 448.7,425.1 450.4,425.4 452.1,425.3 453.8,425.2 455.5,424.7 457.4,426.0 459.3,427.9 460.9,429.6 462.5,430.5 464.1,432.5 465.6,433.6 467.5,430.5 469.5,428.5 472.0,429.8 473.9,430.5 475.8,431.1 477.4,431.7 479.0,432.4 480.6,432.0 482.2,431.1 484.1,431.6 486.0,431.7 487.7,431.5 489.4,431.6 491.1,432.1 493.6,432.6 495.6,432.6 497.5,431.7 498.7,429.2 500.6,429.8 502.5,429.6 504.4,429.4 506.4,428.5 508.1,428.3 509.8,427.7 511.5,427.9 513.2,428.7 514.8,428.3 516.5,429.2 518.2,429.2 519.9,429.4 521.6,429.8 523.3,429.9 525.0,429.8 526.7,430.1 528.4,430.6 530.1,430.9 531.8,430.8 533.5,430.9 535.2,430.5 536.9,431.1 538.8,431.7 540.7,432.1 543.3,431.1 545.6,432.4" fill="none" stroke="#ff3838" stroke-width="1.3" stroke-linejoin="round"/>
<polyline points="322.9,406.0 322.9,398.9 324.5,395.1 326.2,390.7 328.4,386.9 330.5,383.6 332.7,380.9 334.9,379.3 336.5,377.6 338.2,378.2 339.8,379.8 340.7,382.0 341.4,391.8 342.0,402.7 343.1,412.5 344.7,414.7 346.4,415.4 348.0,416.3 350.0,418.2 351.9,418.6 353.9,419.3 355.8,419.6 357.7,419.6 359.7,419.8 361.6,420.4 363.4,420.8 365.2,420.6 367.1,420.9 368.9,421.1 370.4,420.6 371.9,420.8 373.5,420.7 375.0,420.3 376.7,421.0 378.4,420.9 380.1,420.9 381.8,421.3 383.5,421.4 385.2,421.5 387.7,423.2 389.6,422.2 390.9,418.4 392.8,419.4 395.4,418.4 397.3,419.6 398.9,420.3 400.5,420.3 402.2,421.0 403.8,420.5 405.5,421.2 407.4,420.9 409.4,420.3 411.3,419.4 413.2,417.7 415.7,413.9 418.3,409.5 420.8,407.5 423.4,408.8 425.3,410.7 427.2,412.0 429.1,411.5 431.0,411.4 433.8,412.0 435.4,411.2 437.0,410.5 438.6,411.8 440.2,412.6 441.9,413.0 443.6,413.6 445.3,414.5 447.0,414.9 448.7,415.9 450.4,417.1 452.1,416.4 453.8,416.5 455.5,415.6 458.0,419.6 459.6,421.7 461.2,424.7 463.1,426.2 465.0,428.5 466.9,425.4 468.8,422.8 470.4,423.4 472.0,424.7 473.9,425.3 475.8,426.6 478.4,426.6 480.9,425.4 483.5,426.6 486.0,426.0 487.7,426.5 489.4,426.2 491.1,426.6 492.7,426.6 494.3,426.5 495.9,426.3 497.5,426.6 498.7,424.5 500.6,424.4 502.5,424.5 504.4,423.6 506.4,423.2 508.3,422.6 510.2,421.9 512.1,422.0 514.0,422.8 515.7,423.1 517.4,423.8 519.1,423.7 520.8,423.6 522.5,424.5 524.2,424.5 525.9,424.2 527.6,425.2 529.3,425.0 531.0,425.1 532.7,426.0 534.4,426.0 536.1,426.4 537.8,426.8 539.5,426.6 541.4,426.5 543.3,426.0 545.6,427.3" fill="none" stroke="#3c3cff" stroke-width="1.3" stroke-linejoin="round"/>
<polyline points="322.9,398.9 322.9,391.3 324.0,392.9 325.6,390.2 328.4,387.4 330.5,385.8 333.3,384.7 336.0,385.3 337.6,384.2 338.7,382.5 339.8,383.1 340.7,388.5 341.4,395.1 343.1,399.4 344.8,401.0 346.4,401.6 348.0,401.1 350.0,401.5 351.9,401.9 353.9,402.0 355.8,402.2 357.7,402.1 359.7,402.3 361.6,402.9 363.6,402.8 365.5,403.0 367.5,402.9 369.0,402.7 370.5,403.0 372.0,402.4 373.5,402.9 375.0,402.8 376.7,403.3 378.4,403.0 380.1,403.1 382.0,403.9 383.9,404.4 385.8,405.9 387.7,406.9 389.6,405.6 390.9,401.2 392.8,402.5 395.4,401.2 397.9,402.8 399.8,402.9 401.7,403.3 403.6,403.6 405.5,404.1 407.4,403.9 409.4,403.3 411.3,402.6 413.2,402.5 415.1,401.2 417.0,400.5 418.6,400.4 420.2,399.9 421.8,400.3 423.4,401.2 425.3,402.5 426.5,405.0 428.5,403.7 430.1,403.0 431.6,402.8 433.2,403.2 434.8,402.5 436.4,402.5 438.0,402.8 439.5,403.4 441.1,404.4 442.7,404.4 444.3,405.3 445.9,405.4 447.5,406.0 449.1,406.3 450.7,406.0 452.3,406.6 453.9,407.2 455.5,406.9 457.4,407.7 459.3,409.5 460.9,411.3 462.5,413.3 465.0,415.2 466.9,412.0 468.8,408.8 470.7,409.5 473.3,410.7 475.8,412.0 477.7,410.7 479.0,413.3 480.9,411.4 483.5,412.0 485.4,412.3 487.3,411.7 489.8,412.0 491.4,412.9 493.0,413.0 495.5,411.0 497.1,408.8 498.7,407.5 500.6,407.3 502.5,406.9 504.1,406.1 505.7,405.4 508.3,403.3 509.9,402.2 511.5,401.2 513.4,401.8 515.9,404.4 517.5,405.5 519.1,406.9 520.7,407.6 522.3,407.9 524.2,406.7 526.1,405.9 528.6,407.5 530.2,408.7 531.8,409.7 534.4,410.5 536.3,410.8 538.2,410.5 539.8,409.9 541.4,409.2 543.3,411.4 545.6,409.5" fill="none" stroke="#12dc12" stroke-width="1.3" stroke-linejoin="round"/>
<polyline points="322.9,410.4 322.9,408.2 324.0,409.3 325.6,407.6 327.8,406.0 330.0,404.4 332.2,403.3 334.4,402.7 336.0,401.6 337.6,401.1 339.3,401.6 340.4,402.7 341.4,408.2 342.5,412.5 345.3,414.7 348.0,415.8 349.6,415.9 351.3,415.7 352.9,416.0 354.8,415.9 356.8,416.7 358.7,416.7 360.6,416.9 362.6,416.9 364.5,417.0 366.5,417.4 368.4,417.7 370.4,417.5 371.9,417.1 373.5,417.0 375.0,417.1 376.7,417.1 378.4,418.2 380.1,418.4 381.8,418.7 383.5,419.7 385.2,419.6 387.7,421.5 390.3,418.4 392.8,416.5 395.4,415.2 397.3,417.1 398.9,417.4 400.5,417.7 402.1,417.8 403.6,418.3 405.2,418.4 406.8,418.4 408.4,417.9 410.0,418.3 411.6,418.8 413.2,418.4 414.8,418.1 416.4,417.6 417.9,418.1 419.5,417.7 421.4,418.3 423.4,418.4 425.1,418.8 426.8,418.8 428.5,419.6 430.0,420.3 431.6,420.0 433.2,420.8 434.8,421.1 436.4,420.9 438.0,421.2 439.5,421.9 441.1,421.5 442.7,422.2 444.3,423.0 445.9,423.0 447.5,423.0 449.1,423.5 450.7,424.0 452.3,423.8 453.9,424.0 455.5,424.7 457.2,425.4 458.8,426.4 460.5,427.3 462.0,428.7 463.5,429.5 465.0,431.1 466.9,427.9 468.8,424.7 470.4,425.8 472.0,426.0 473.9,426.8 475.8,427.9 477.5,427.9 479.2,427.4 480.9,427.3 482.6,427.6 484.3,427.6 486.0,427.9 487.6,428.3 489.2,428.3 490.8,428.3 492.4,428.5 494.1,428.4 495.8,428.1 497.5,428.3 498.7,426.0 500.4,425.9 502.1,426.5 503.8,426.0 505.5,425.5 507.2,425.4 508.9,424.5 510.8,425.2 512.7,425.0 514.4,425.1 516.1,426.1 517.8,426.0 519.4,426.4 521.0,426.5 522.6,427.0 524.2,427.3 525.8,427.2 527.4,427.8 528.9,427.8 530.5,427.9 532.1,428.0 533.7,428.4 535.3,428.3 536.9,428.5 538.6,428.3 540.3,428.0 542.0,428.5 543.8,427.8 545.6,427.9" fill="none" stroke="#e020e0" stroke-width="1.3" stroke-linejoin="round"/>
<text x="322.1" y="464.3" class="tk" style="font-size:11.4px" text-anchor="middle">4000</text>
<text x="385.79" y="464.3" class="tk" style="font-size:11.4px" text-anchor="middle">3000</text>
<text x="449.47" y="464.3" class="tk" style="font-size:11.4px" text-anchor="middle">2000</text>
<text x="513.16" y="464.3" class="tk" style="font-size:11.4px" text-anchor="middle">1000</text>
<text x="314.9" y="448.7" class="tk" style="font-size:11.4px" text-anchor="end">0</text>
<text x="314.9" y="385.28" class="tk" style="font-size:11.4px" text-anchor="end">50</text>
<text x="314.9" y="321.87" class="tk" style="font-size:11.4px" text-anchor="end">100</text>
<text x="433.6" y="272.5" class="ti" text-anchor="middle">d</text>
<text transform="translate(287.8 368.2) rotate(-90)" class="ax" style="font-size:12.5px" text-anchor="middle">Transmittance <tspan font-weight="normal">(%)</tspan></text>
<text x="434" y="483.7" class="ax" style="font-size:12.3px" text-anchor="middle">Wavenumber (cm<tspan dy="-5.4" font-size="9.5px">−1</tspan><tspan dy="5.4">)</tspan></text>
<line x1="318.8" y1="500.6" x2="334.4" y2="500.6" stroke="#222222" stroke-width="1.4" opacity="0.8"/>
<text x="343.1" y="504.6" class="lg" style="font-size:12.35px">CH00CUR000</text>
<line x1="432.3" y1="500.5" x2="447.7" y2="500.5" stroke="#ff3838" stroke-width="1.4" opacity="0.8"/>
<text x="456.3" y="504.5" class="lg" style="font-size:12.35px">CH30CUR050</text>
<line x1="316.6" y1="521" x2="332.2" y2="521" stroke="#3c3cff" stroke-width="1.4" opacity="0.8"/>
<text x="341" y="524.8" class="lg" style="font-size:12.35px">CH30CUR025</text>
<line x1="438.2" y1="520.9" x2="454.1" y2="520.9" stroke="#12dc12" stroke-width="1.4" opacity="0.8"/>
<text x="462.7" y="524.9" class="lg" style="font-size:12.35px">CH15CUR025</text>
<line x1="383" y1="541.5" x2="398.8" y2="541.5" stroke="#e020e0" stroke-width="1.4" opacity="0.8"/>
<text x="407.8" y="545.3" class="lg" style="font-size:12.35px">CH15CUR050</text></g>
</svg>
</body></html>
